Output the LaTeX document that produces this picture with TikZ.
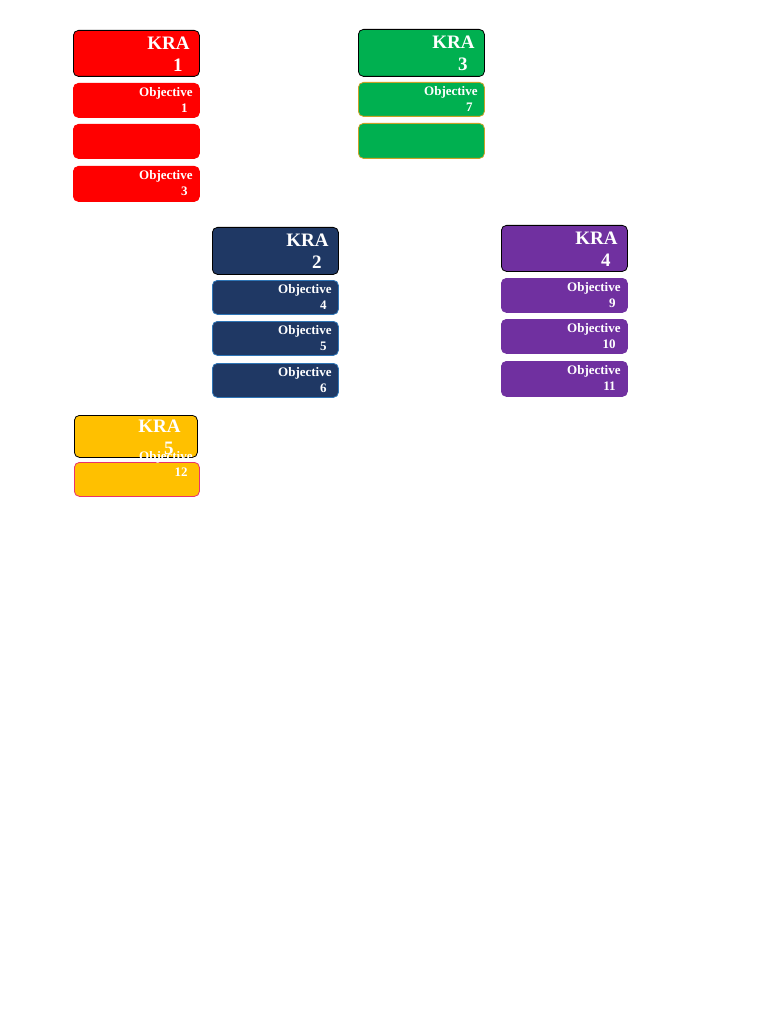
\documentclass[tikz,border=0pt]{standalone}
\usepackage{fontspec}
\setmainfont{Liberation Serif}
\definecolor{cred}{HTML}{FF0000}
\definecolor{cgreen}{HTML}{00B050}
\definecolor{cnavy}{HTML}{1F3864}
\definecolor{cpurple}{HTML}{7030A0}
\definecolor{cyellow}{HTML}{FFC000}
\definecolor{bblue}{HTML}{2E75B6}
\definecolor{borange}{HTML}{C9A227}
\definecolor{bpink}{HTML}{E8336D}
\tikzset{
 box/.style={rounded corners=5pt, anchor=north west, minimum width=126pt, inner sep=0pt, line width=0.8pt},
 kratext/.style={anchor=north east, align=right, text=white, font=\bfseries\fontsize{19}{22}\selectfont, inner sep=0pt},
 objtext/.style={anchor=north east, align=right, text=white, font=\bfseries\fontsize{13}{16}\selectfont, inner sep=0pt},
}
\newcommand\kn[1]{#1\hspace*{7pt}}
\newcommand\on[1]{#1\hspace*{5pt}}
\begin{document}
\begin{tikzpicture}[x=1pt,y=-1pt]
\useasboundingbox (0,0) rectangle (768,1024);
% KRA 1
\node[box, fill=cred, draw=black, minimum height=46pt] (k1) at (73,30) {};
\node[kratext] (k1t) at ([xshift=-10pt,yshift=-7pt]k1.north east) {KRA\\\kn{1}};
\node[box, fill=cred, draw=cred, minimum height=34pt] (o1) at (73,83) {};
\node[objtext] (o1t) at ([xshift=-7pt,yshift=-4pt]o1.north east) {Objective\\\on{1}};
\node[box, fill=cred, draw=cred, minimum height=34pt] (o2) at (73,124) {};
\node[box, fill=cred, draw=cred, minimum height=35pt] (o3) at (73,166) {};
\node[objtext] (o3t) at ([xshift=-7pt,yshift=-4pt]o3.north east) {Objective\\\on{3}};
% KRA 3
\node[box, fill=cgreen, draw=black, minimum height=47pt] (k3) at (358,29) {};
\node[kratext] (k3t) at ([xshift=-10pt,yshift=-7pt]k3.north east) {KRA\\\kn{3}};
\node[box, fill=cgreen, draw=borange, minimum height=34pt] (o7) at (358,82) {};
\node[objtext] (o7t) at ([xshift=-7pt,yshift=-4pt]o7.north east) {Objective\\\on{7}};
\node[box, fill=cgreen, draw=borange, minimum height=35pt] (o8) at (358,123) {};
% KRA 2
\node[box, fill=cnavy, draw=black, minimum height=47pt] (k2) at (212,227) {};
\node[kratext] (k2t) at ([xshift=-10pt,yshift=-7pt]k2.north east) {KRA\\\kn{2}};
\node[box, fill=cnavy, draw=bblue, minimum height=34pt] (o4) at (212,280) {};
\node[objtext] (o4t) at ([xshift=-7pt,yshift=-4pt]o4.north east) {Objective\\\on{4}};
\node[box, fill=cnavy, draw=bblue, minimum height=34pt] (o5) at (212,321) {};
\node[objtext] (o5t) at ([xshift=-7pt,yshift=-4pt]o5.north east) {Objective\\\on{5}};
\node[box, fill=cnavy, draw=bblue, minimum height=34pt] (o6) at (212,363) {};
\node[objtext] (o6t) at ([xshift=-7pt,yshift=-4pt]o6.north east) {Objective\\\on{6}};
% KRA 4
\node[box, fill=cpurple, draw=black, minimum height=46pt] (k4) at (501,225) {};
\node[kratext] (k4t) at ([xshift=-10pt,yshift=-7pt]k4.north east) {KRA\\\kn{4}};
\node[box, fill=cpurple, draw=cpurple, minimum height=34pt] (o9) at (501,278) {};
\node[objtext] (o9t) at ([xshift=-7pt,yshift=-4pt]o9.north east) {Objective\\\on{9}};
\node[box, fill=cpurple, draw=cpurple, minimum height=34pt] (o10) at (501,319) {};
\node[objtext] (o10t) at ([xshift=-7pt,yshift=-4pt]o10.north east) {Objective\\\on{10}};
\node[box, fill=cpurple, draw=cpurple, minimum height=35pt] (o11) at (501,361) {};
\node[objtext] (o11t) at ([xshift=-7pt,yshift=-4pt]o11.north east) {Objective\\\on{11}};
% KRA 5
\node[box, fill=cyellow, draw=black, minimum width=123pt, minimum height=42pt] (k5) at (74,415) {};
\node[kratext] (k5t) at ([xshift=-17pt,yshift=-5pt]k5.north east) {KRA\\\kn{5}};
\node[box, fill=cyellow, draw=bpink, minimum width=125pt, minimum height=34pt] (o12) at (74,462) {};
\node[objtext] (o12t) at ([xshift=-7pt,yshift=11pt]o12.north east) {Objective\\\on{12}};
\end{tikzpicture}
\end{document}
